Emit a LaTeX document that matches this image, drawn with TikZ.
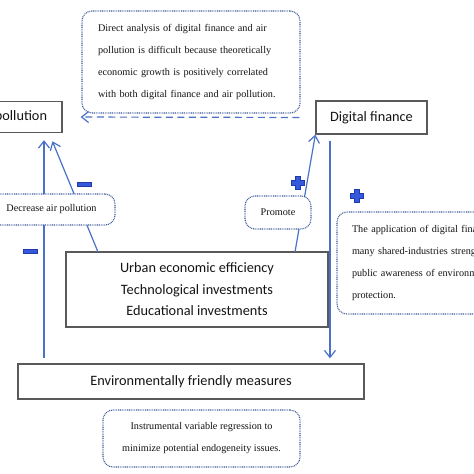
\documentclass[tikz,border=0pt]{standalone}
\usepackage{fontspec}
\setmainfont{Liberation Serif}
\newfontfamily\calib{Carlito}
\usetikzlibrary{arrows.meta}
\definecolor{arrblue}{HTML}{4A72C8}
\definecolor{dotblue}{HTML}{3D5A99}
\definecolor{boxgray}{HTML}{595959}
\definecolor{signblue}{HTML}{3658DC}
\definecolor{signedge}{HTML}{1F3BA8}
\definecolor{txt}{HTML}{141414}
\tikzset{
 mainbox/.style={draw=boxgray, line width=1.3pt, fill=white, text=txt,
   font=\calib\fontsize{14.3}{21.5}\selectfont, inner sep=0pt, align=center},
 notebox/.style={draw=dotblue, line width=1.1pt, dash pattern=on 0.9pt off 0.9pt,
   rounded corners=10pt, fill=white, text=txt, font=\fontsize{10.2}{22}\selectfont, inner sep=0pt},
 arr/.style={draw=arrblue, line width=1.2pt, -{Straight Barb[length=7pt,width=11pt]}},
 dasharr/.style={arr, dash pattern=on 7pt off 4.5pt},
 plussign/.pic={\path[fill=signblue, draw=signedge, line width=0.6pt]
   (-6.5,-2.4) -- (-2.4,-2.4) -- (-2.4,-6.5) -- (2.4,-6.5) -- (2.4,-2.4) -- (6.5,-2.4)
   -- (6.5,2.4) -- (2.4,2.4) -- (2.4,6.5) -- (-2.4,6.5) -- (-2.4,2.4) -- (-6.5,2.4) -- cycle;},
 minussign/.pic={\path[fill=signblue, draw=signedge, line width=0.6pt]
   (-7,-2.2) rectangle (7,2.2);},
}
\begin{document}
\begin{tikzpicture}[x=1pt,y=-1pt]
\useasboundingbox (0,0) rectangle (474,474);
\fill[white] (0,0) rectangle (474,474);
\clip (0,0) rectangle (474,474);

% main boxes
\node[mainbox, minimum width=82, minimum height=31] (pol) at (21,117) {pollution};
\node[mainbox, minimum width=111, minimum height=33] (df) at (371.5,117.5) {Digital finance};
\node[mainbox, minimum width=262, minimum height=75] (urban) at (197,289.5)
  {Urban economic efficiency\\Technological investments\\Educational investments};
\node[mainbox, minimum width=346, minimum height=35] (env) at (191,381.5)
  {Environmentally friendly measures};

% note boxes
\node[notebox, minimum width=218, minimum height=102, text width=186, align=left] (note1) at (191,62)
  {Direct analysis of digital finance and air\\pollution is difficult because theoretically\\economic growth is positively correlated\\with both digital finance and air pollution.};
\node[notebox, minimum width=230, minimum height=102, text width=200, align=left] (note2) at (452,263)
  {The application of digital finance in\\many shared-industries strengthens\\public awareness of environmental\\protection.};
\node[notebox, minimum width=197, minimum height=57, align=center] (note3) at (201.5,438.5)
  {Instrumental variable regression to\\minimize potential endogeneity issues.};

% helper coordinates
\coordinate (x44) at (44,0);
\coordinate (x330) at (330,0);
\coordinate (u1) at (295,252);
\coordinate (u2) at (98,252);
\coordinate (p2) at (49,133);

% connectors
\draw[dasharr, shorten <=16pt, shorten >=18pt] (df.west) -- (pol.east);
\draw[arr, shorten <=5pt, shorten >=7pt] (env.north -| x44) -- (pol.south -| x44);
\draw[arr, shorten >=9pt] (u2) -- (p2);
\draw[arr] (u1) -- (df.south west);
\draw[arr, shorten <=6pt, shorten >=5pt] (df.south -| x330) -- (env.north -| x330);

% labels on the connectors
\node[notebox, minimum width=127, minimum height=31] (dec) at (51.5,209.5) {Decrease air pollution};
\node[notebox, minimum width=66, minimum height=33] (prom) at (278,212.5) {Promote};

% signs
\pic at (84,184) {minussign};
\pic at (30,251) {minussign};
\pic at (298,183) {plussign};
\pic at (357,196) {plussign};
\end{tikzpicture}
\end{document}
